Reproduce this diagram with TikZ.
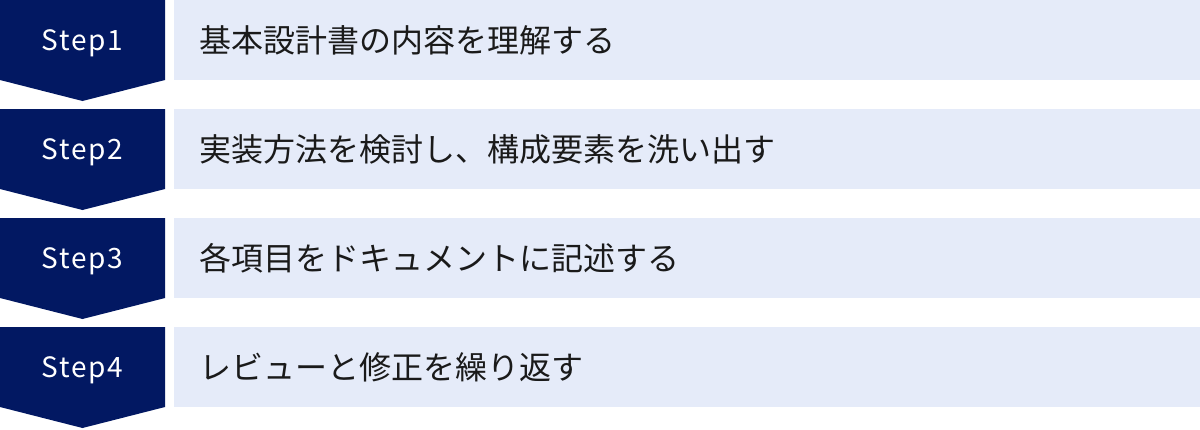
\documentclass[tikz,border=0pt]{standalone}
\usepackage{fontspec}
\newfontfamily\cjk{Noto Sans CJK JP}
\newfontfamily\stepfont[LetterSpace=6]{Noto Sans CJK JP}
\definecolor{navy}{HTML}{021862}
\definecolor{lightbox}{HTML}{E5EBF9}
\definecolor{txt}{HTML}{1A1A1A}
\tikzset{
  stepshape/.style={fill=navy},
  boxshape/.style={fill=lightbox},
  steplabel/.style={text=white, inner sep=0pt, font=\stepfont\fontsize{28}{32}\selectfont},
  desclabel/.style={text=txt, anchor=west, inner sep=0pt, font=\cjk\fontsize{32}{36}\selectfont}
}
\begin{document}
\begin{tikzpicture}[x=1pt,y=-1pt]
\useasboundingbox (0,0) rectangle (1200,429);
\foreach \i/\s/\t in {0/Step1/基本設計書の内容を理解する,
                      1/Step2/実装方法を検討し、構成要素を洗い出す,
                      2/Step3/各項目をドキュメントに記述する,
                      3/Step4/レビューと修正を繰り返す}{
  \pgfmathsetmacro{\top}{109*\i}
  \fill[stepshape] (0,\top) -- (165,\top) -- (165,\top+80) -- (82.5,\top+101) -- (0,\top+80) -- cycle;
  \fill[boxshape] (174,\top) rectangle (1200,\top+80);
  \node[steplabel] (step\i) at (82.5,\top+43.5) {\s};
  \node[desclabel] (desc\i) at (199,\top+40) {\t};
}
\end{tikzpicture}
\end{document}
